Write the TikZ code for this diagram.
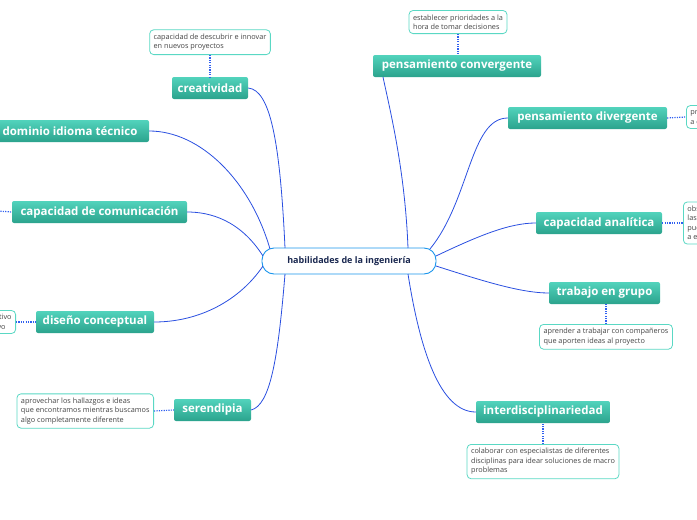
\documentclass[tikz,border=0pt]{standalone}
\usepackage{fontspec}
\setmainfont{Open Sans}
\begin{document}
\begin{tikzpicture}[x=1pt,y=-1pt,
 br/.style={rounded corners=2pt,top color=teal1,bottom color=teal2,draw=none,text=white,font=\fontsize{11.5}{13}\selectfont\bfseries,minimum height=22pt,inner sep=0pt},
 nt/.style={rounded corners=4pt,draw=notec,fill=white,line width=0.8pt,text=txtg,font=\fontsize{7.3}{9.5}\selectfont,align=left,inner sep=4pt},
 ln/.style={draw=lnblue,line width=0.8pt},
 dt/.style={draw=dtblue,line width=1.2pt,dash pattern=on 1.2pt off 1.2pt}]
\definecolor{teal1}{HTML}{52D3BC}\definecolor{teal2}{HTML}{2BA38D}
\definecolor{notec}{HTML}{5AD8C4}\definecolor{txtg}{HTML}{444444}
\definecolor{lnblue}{HTML}{2A4FE0}\definecolor{navy}{HTML}{1A2850}
\definecolor{dtblue}{HTML}{3060F0}
\clip (0,0) rectangle (697,520);
\useasboundingbox (0,0) rectangle (697,520);
\node[rounded corners=12pt,draw=lnblue!60!cyan,line width=0.9pt,fill=white,minimum width=174pt,minimum height=26pt,text=navy,font=\fontsize{9}{11}\selectfont\bfseries] (c) at (349,261) {habilidades de la ingeniería};
% branches
\node[br,minimum width=76pt] (cre) at (210,88) {creatividad};
\node[br,minimum width=158pt] (dom) at (70,131) {dominio idioma técnico};
\node[br,minimum width=175pt] (com) at (99.5,212) {capacidad de comunicación};
\node[br,minimum width=118pt] (dis) at (95,322) {diseño conceptual};
\node[br,minimum width=77pt] (ser) at (212.5,410) {serendipia};
\node[br,minimum width=168pt] (pc) at (457,66) {pensamiento convergente};
\node[br,minimum width=159pt] (pd) at (587.5,118) {pensamiento divergente};
\node[br,minimum width=126pt] (ca) at (599,223) {capacidad analítica};
\node[br,minimum width=111pt] (tg) at (604.5,293) {trabajo en grupo};
\node[br,minimum width=134pt] (id) at (543,412) {interdisciplinariedad};
% notes
\node[nt,anchor=south] (ncre) at (210,55) {capacidad de descubrir e innovar\\en nuevos proyectos};
\node[nt,anchor=south] (npc) at (458,34) {establecer prioridades a la\\hora de tomar decisiones};
\node[nt,anchor=west] (npd) at (686,117) {priorizar\\a ello};
\node[nt,anchor=west] (nca) at (683,223) {observar\\las cosas\\puede\\a ello};
\node[nt,anchor=north] (ntg) at (606,324) {aprender a trabajar con compañeros\\que aporten ideas al proyecto};
\node[nt,anchor=north] (nid) at (543,444) {colaborar con especialistas de diferentes\\disciplinas para idear soluciones de macro\\problemas};
\node[nt,anchor=east] (nser) at (154,411) {aprovechar los hallazgos e ideas\\que encontramos mientras buscamos\\algo completamente diferente};
\node[nt,anchor=east] (ndis) at (16,322) {creativo\\nuevo};
\coordinate (lcom) at (-2,211);
% dotted
\draw[dt] (ncre.south) -- (cre.north);
\draw[dt] (npc.south) -- (npc.south|-pc.north);
\draw[dt] (pd.east) -- (npd.west);
\draw[dt] (ca.east) -- (nca.west);
\draw[dt] (ntg.north) -- (ntg.north|-tg.south);
\draw[dt] (nid.north) -- (id.south);
\draw[dt] (nser.east) -- (ser.west);
\draw[dt] (ndis.east) -- (dis.west);
\draw[dt] (lcom) -- (com.west);
% connectors
\draw[ln] (285,248) .. controls (280,140) and (270,90) .. (cre.east);
\draw[ln] (270,249) .. controls (250,180) and (200,131) .. (dom.east);
\draw[ln] (263,256) .. controls (240,220) and (210,212) .. (com.east);
\draw[ln] (263,266) .. controls (240,300) and (200,322) .. (dis.east);
\draw[ln] (285,274) .. controls (278,360) and (270,405) .. (ser.east);
\draw[ln] (408,248) .. controls (405,170) and (390,110) .. (383,77);
\draw[ln] (430,249) .. controls (470,200) and (470,118) .. (pd.west);
\draw[ln] (436,256) .. controls (480,235) and (510,223) .. (ca.west);
\draw[ln] (436,266) .. controls (480,280) and (520,293) .. (tg.west);
\draw[ln] (408,274) .. controls (420,350) and (440,412) .. (id.west);
\end{tikzpicture}
\end{document}
